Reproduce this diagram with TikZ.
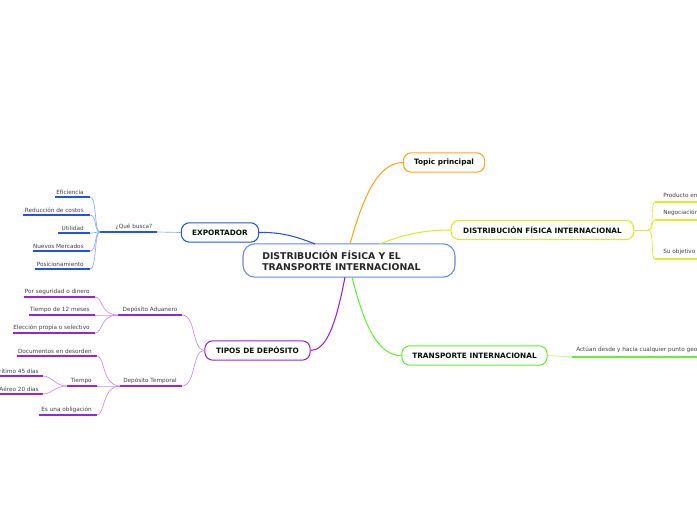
\documentclass[tikz,border=0pt]{standalone}
\usepackage{fontspec}
\setmainfont{DejaVu Sans}
\begin{document}
\begin{tikzpicture}[x=0.75pt,y=-0.75pt,
  topic/.style={draw,rounded corners=6pt,line width=0.8pt,font=\fontsize{5.5}{6}\selectfont\bfseries,text=black!80!green!40!black,inner sep=0pt,minimum height=14.5pt,fill=white},
  lbl/.style={font=\fontsize{4.3}{5}\selectfont,text=black!75,inner sep=0pt,anchor=south},
  bul/.style={line width=1.1pt,draw=#1},
  bcv/.style={line width=0.5pt,draw=#1}]
\definecolor{bl}{HTML}{2255DD}\definecolor{blc}{HTML}{88AAFF}
\definecolor{pu}{HTML}{9922DD}\definecolor{puc}{HTML}{CC88FF}
\definecolor{ye}{HTML}{D8F020}\definecolor{gr}{HTML}{66EE33}\definecolor{or}{HTML}{FFA520}
\useasboundingbox (0,0) rectangle (697,520);
% central
\node[topic,draw=bl!70,minimum width=159pt,minimum height=25pt,rounded corners=9pt,font=\fontsize{7}{8.5}\selectfont\bfseries,text=black!85] (c) at (349,260.5) {};
\node[font=\fontsize{7}{8.5}\selectfont\bfseries,text=black!85,align=left,anchor=west,inner sep=0pt] (ct) at (262,261) {DISTRIBUCIÓN FÍSICA Y EL\\TRANSPORTE INTERNACIONAL};
% main topics
\node[topic,draw=or,minimum width=61pt] (tp) at (444,162.5) {Topic principal};
\node[topic,draw=ye,minimum width=137pt] (dfi) at (542.5,230) {DISTRIBUCIÓN FÍSICA INTERNACIONAL};
\node[topic,draw=gr,minimum width=109pt] (ti) at (474.5,355.5) {TRANSPORTE INTERNACIONAL};
\node[topic,draw=bl,minimum width=58pt] (ex) at (220,232.5) {EXPORTADOR};
\node[topic,draw=pu,minimum width=79pt] (td) at (257.5,350.5) {TIPOS DE DEPÓSITO};
\draw[or,line width=0.8pt] (350,244) .. controls (365,190) and (380,163) .. (tp.west);
\draw[ye,line width=0.8pt] (380,244) .. controls (400,236) and (420,230) .. (dfi.west);
\draw[gr,line width=0.8pt] (352,277) .. controls (365,330) and (380,356) .. (ti.west);
\draw[bl,line width=0.8pt] (315,244) .. controls (295,236) and (280,232) .. (ex.east);
\draw[pu,line width=0.8pt] (345,277) .. controls (335,330) and (325,350) .. (td.east);
% EXPORTADOR branch
\coordinate (q1) at (100,232); \coordinate (q2) at (157,232);
\draw[bcv=blc] (ex.west) -- (q2);
\draw[bul=bl] (q1) -- (q2);
\node[lbl] (q) at (134,230) {¿Qué busca?};
\foreach \n/\t/\a/\y in {e1/Eficiencia/55/197,e2/Reducción de costos/23/215,e3/Utilidad/58/233,e4/Nuevos Mercados/33/251,e5/Posicionamiento/35/269}{
  \coordinate (\n a) at (\a,\y); \coordinate (\n b) at (90,\y);
  \draw[bul=bl] (\n a) -- (\n b);
  \draw[bcv=blc] (\n b) .. controls (97,\y) and (94,232) .. (q1);
  \node[lbl,anchor=south east] (\n) at (84,\y-2) {\t};
}
% TIPOS DE DEPOSITO
\coordinate (da1) at (118,315); \coordinate (da2) at (182,315);
\coordinate (dt1) at (120,386); \coordinate (dt2) at (182,386);
\draw[bul=pu] (da1) -- (da2); \draw[bul=pu] (dt1) -- (dt2);
\node[lbl] (da) at (150,313) {Depósito Aduanero};
\node[lbl] (dt) at (150,384) {Depósito Temporal};
\draw[bcv=puc] (td.west) .. controls (192,350) and (196,315) .. (da2);
\draw[bcv=puc] (td.west) .. controls (192,350) and (196,386) .. (dt2);
\foreach \n/\t/\a/\y in {a1/Por seguridad o dinero/24/297,a2/Tiempo de 12 meses/29/315,a3/Elección propia o selectivo/13/333}{
  \coordinate (\n a) at (\a,\y); \coordinate (\n b) at (95,\y);
  \draw[bul=pu] (\n a) -- (\n b);
  \draw[bcv=puc] (\n b) .. controls (103,\y) and (100,315) .. (da1);
  \node[lbl,anchor=south east] (\n) at (90,\y-2) {\t};
}
\foreach \n/\t/\a/\y in {b1/Documentos en desorden/17/356,b2/Tiempo/67/386,b3/Es una obligación/39/415}{
  \coordinate (\n a) at (\a,\y); \coordinate (\n b) at (97,\y);
  \draw[bul=pu] (\n a) -- (\n b);
  \draw[bcv=puc] (\n b) .. controls (105,\y) and (102,386) .. (dt1);
  \node[lbl,anchor=south east] (\n) at (92,\y-2) {\t};
}
\foreach \n/\t/\y in {m1/Marítimo 45 días/376,m2/Aéreo 20 días/394}{
  \coordinate (\n a) at (-5,\y); \coordinate (\n b) at (43,\y);
  \draw[bul=pu] (\n a) -- (\n b);
  \draw[bcv=puc] (\n b) .. controls (52,\y) and (55,386) .. (b2a);
  \node[lbl,anchor=south east] (\n) at (39,\y-2) {\t};
}
% DFI branch
\coordinate (f0) at (648,230);
\draw[bcv=ye] (dfi.east) -- (f0);
\foreach \n/\t/\y in {f1/Producto en/202,f2/Negociación/220,f3/Su objetivo/259}{
  \coordinate (\n a) at (655,\y); \coordinate (\n b) at (700,\y);
  \draw[bul=ye] (\n a) -- (\n b);
  \draw[bcv=ye] (f0) .. controls (655,230) and (650,\y) .. (\n a);
  \node[lbl,anchor=south west] (\n) at (663,\y-4) {\t};
}
% Transporte branch
\coordinate (t1) at (572,357); \coordinate (t2) at (700,357);
\draw[bcv=gr!50] (ti.east) -- (t1);
\draw[bul=gr] (t1) -- (t2);
\node[lbl,anchor=south west] (tt) at (576,353) {Actúan desde y hacia cualquier punto geogr};
\end{tikzpicture}
\end{document}
